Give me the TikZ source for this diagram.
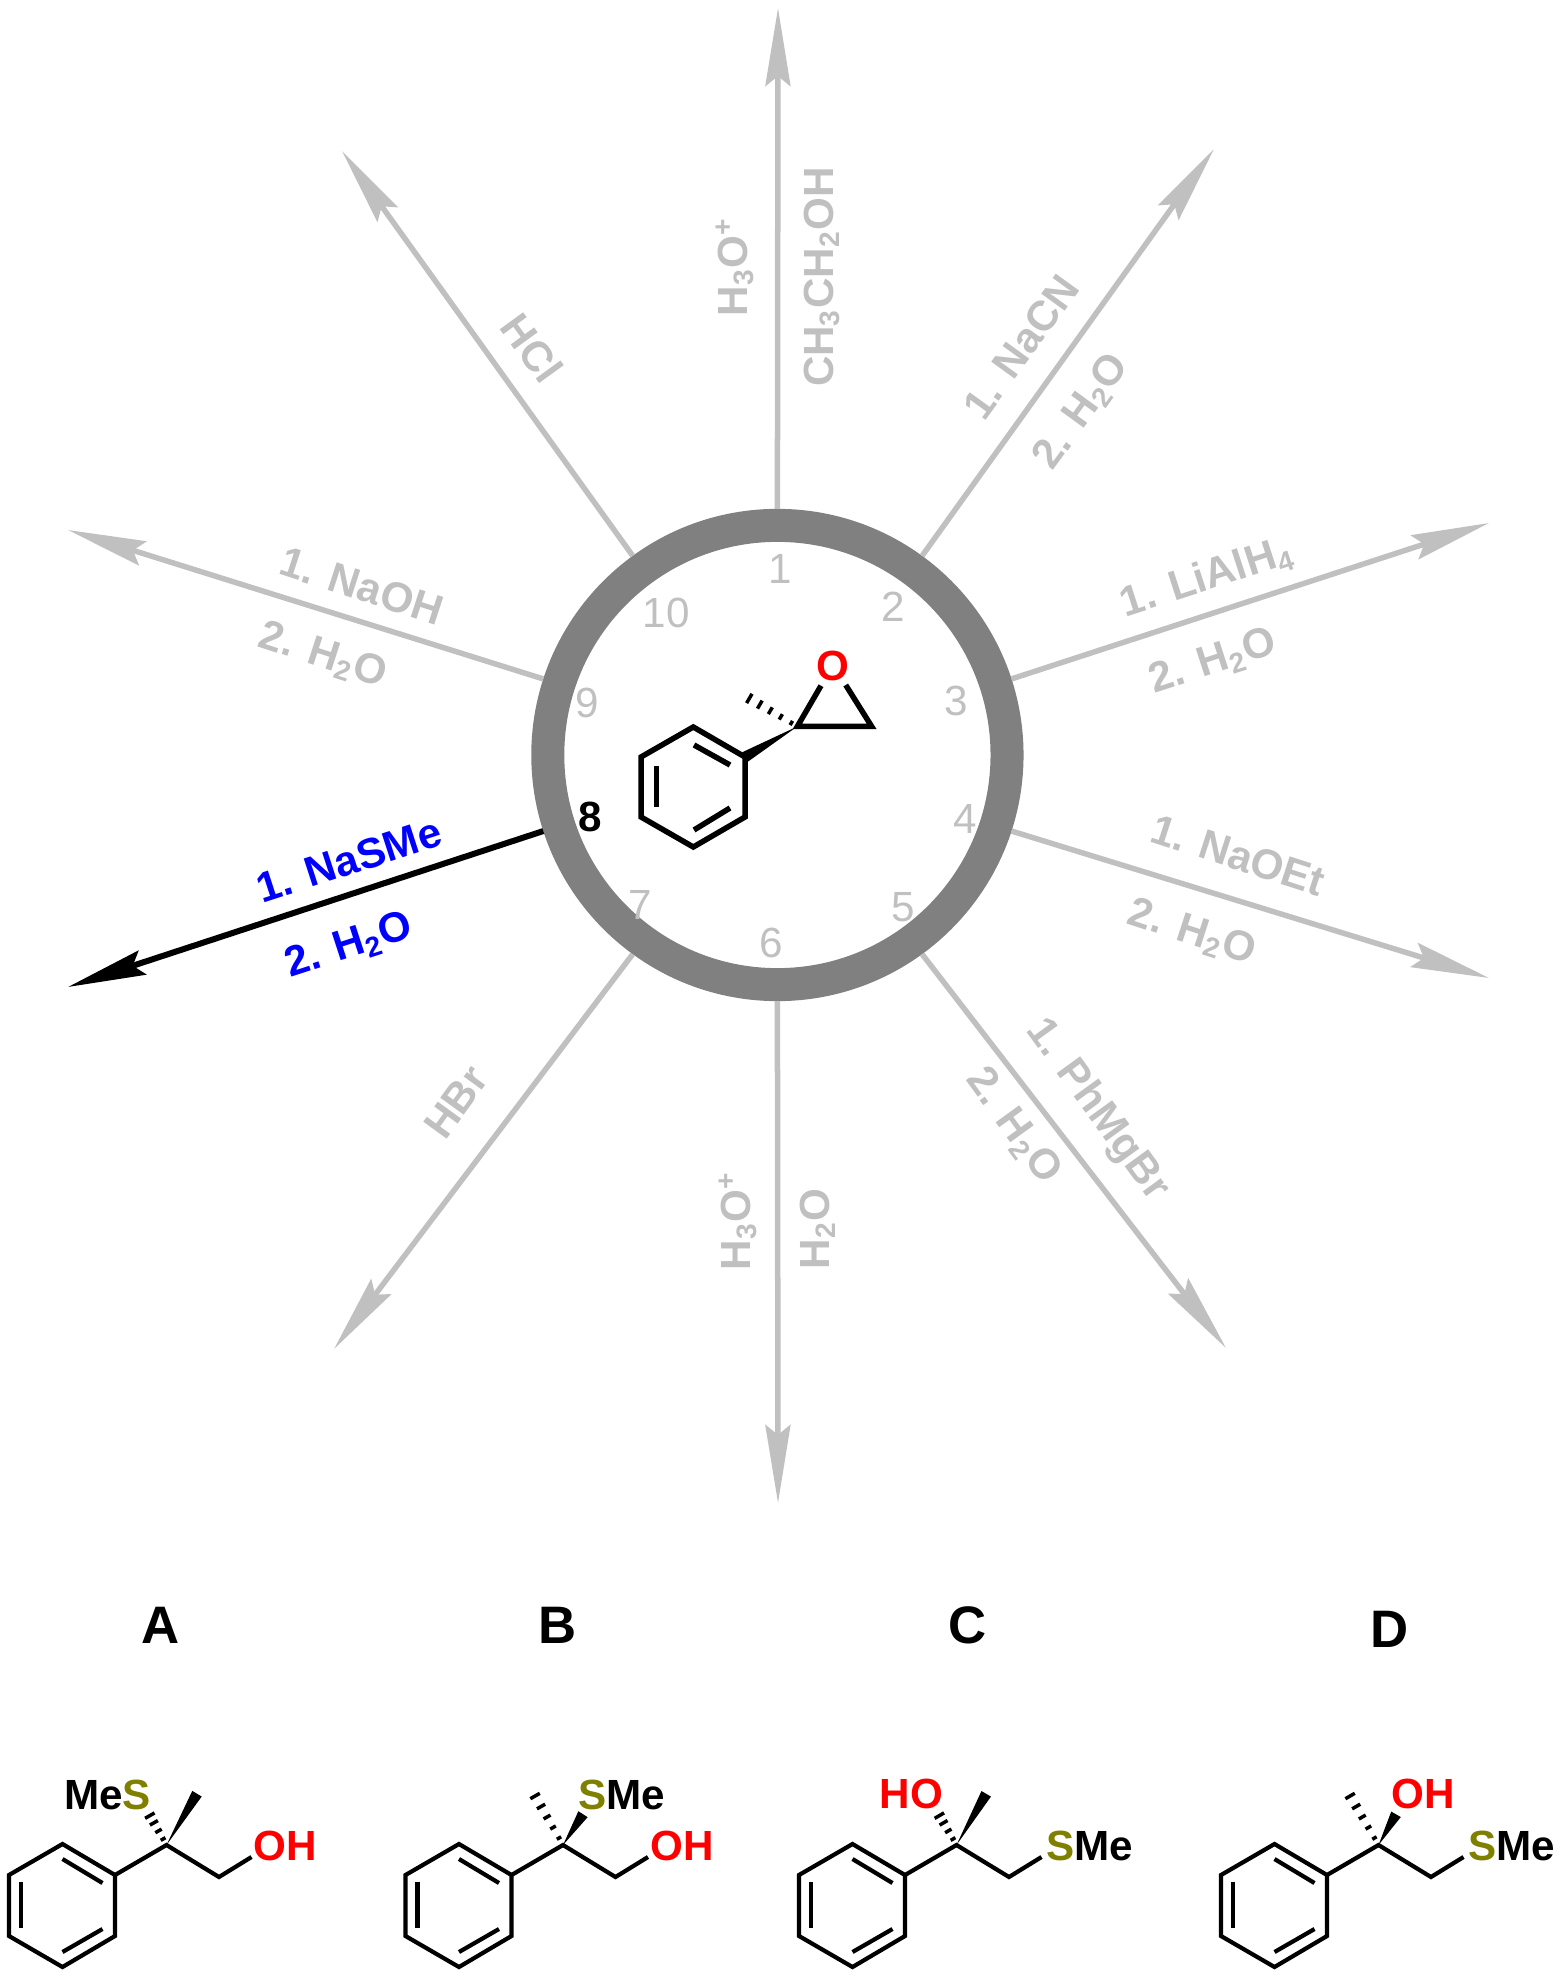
\documentclass[tikz,border=0pt]{standalone}
\usepackage{fontspec}
\setmainfont{Liberation Sans}
\usepackage{tikz}
\usetikzlibrary{arrows.meta,calc}
\definecolor{ringgray}{RGB}{128,128,128}
\definecolor{fadegray}{RGB}{192,192,192}
\definecolor{sulfur}{RGB}{128,128,0}

\newcommand{\wedgebond}[3]{\fill #1 -- ($#2!#3!90:#1$) -- ($#2!#3!-90:#1$) -- cycle;}
\newcommand{\hashbond}[3]{\foreach \pos in {#3} {
    \pgfmathsetmacro{\hw}{0.02+\pos*0.035}
    \draw[line width=0.035cm] ($#1!\pos!#2!\hw cm!90:#2$) -- ($#1!\pos!#2!\hw cm!-90:#2$);}}
% phenyl ring and side chain of one answer
\newcommand{\answerbase}{
    \draw[bond] (62.5,1844) -- (115,1875) -- (115,1936) -- (62.5,1967) -- (9,1936) -- (9,1875) -- cycle;
    \draw[bond] (62.5,1859) -- (102.5,1883);
    \draw[bond] (21,1882) -- (21,1928);
    \draw[bond] (62.5,1952) -- (102.5,1929);
    \coordinate (cq) at (166.5,1845);
    \coordinate (chtwo) at (219,1877);
    \coordinate (xend) at (251.5,1857);
    \draw[bond] (115,1875) -- (cq) -- (chtwo) -- (xend);
}

\begin{document}
\begin{tikzpicture}[x=0.01cm, y=-0.01cm,
    reagent/.style={font=\fontsize{12}{14}\selectfont\bfseries, text=fadegray, inner sep=0pt},
    chosen/.style={reagent, text=blue},
    number/.style={font=\fontsize{12}{14}\selectfont, text=fadegray, inner sep=0pt},
    atom/.style={font=\fontsize{12}{14}\selectfont\bfseries, inner sep=0pt},
    letter/.style={font=\fontsize{15}{18}\selectfont\bfseries, inner sep=0pt},
    arrowline/.style={-{Stealth[length=7.8mm,width=2.5mm,inset=1mm]}, fadegray, line width=0.055cm},
    bond/.style={line width=0.042cm},
    bondtop/.style={line width=0.055cm}
]
\useasboundingbox (0,0) rectangle (1560,1977);

% Ring
\node[draw=ringgray, line width=0.33cm, circle, minimum size=4.59cm, inner sep=0pt] (ring) at (777.4,755) {};

% Arrow ends
\coordinate (end1) at (778,8);
\coordinate (end2) at (1214,149);
\coordinate (end3) at (1489,523);
\coordinate (end4) at (1489,978);
\coordinate (end5) at (1226,1348);
\coordinate (end6) at (778,1503);
\coordinate (end7) at (334,1349);
\coordinate (end8) at (68,987);
\coordinate (end9) at (68,530);
\coordinate (end10) at (342,151);

% Arrows
\draw[arrowline] (ring.90) -- (end1);
\draw[arrowline] (ring.54) -- (end2);
\draw[arrowline] (ring.18) -- (end3);
\draw[arrowline] (ring.-18) -- (end4);
\draw[arrowline] (ring.-54) -- (end5);
\draw[arrowline] (ring.-90) -- (end6);
\draw[arrowline] (ring.234) -- (end7);
\draw[arrowline, black, line width=0.06cm] (ring.198) -- (end8);
\draw[arrowline] (ring.162) -- (end9);
\draw[arrowline] (ring.126) -- (end10);

% Reagents
\node[reagent, rotate=90] (r1a) at (735,267) {H\textsubscript{3}O\textsuperscript{+}};
\node[reagent, rotate=90] (r1b) at (822,277) {CH\textsubscript{3}CH\textsubscript{2}OH};
\node[reagent, rotate=54] (r2a) at (1021,347) {1. NaCN};
\node[reagent, rotate=54] (r2b) at (1082,412) {2. H\textsubscript{2}O};
\node[reagent, rotate=18] (r3a) at (1207,578) {1. LiAlH\textsubscript{4}};
\node[reagent, rotate=18] (r3b) at (1213,662) {2. H\textsubscript{2}O};
\node[reagent, rotate=-18] (r4a) at (1238,855) {1. NaOEt};
\node[reagent, rotate=-18] (r4b) at (1192,933) {2. H\textsubscript{2}O};
\node[reagent, rotate=-54] (r5a) at (1097,1110) {1. PhMgBr};
\node[reagent, rotate=-54] (r5b) at (1013,1126) {2. H\textsubscript{2}O};
\node[reagent, rotate=90] (r6a) at (738,1221) {H\textsubscript{3}O\textsuperscript{+}};
\node[reagent, rotate=90] (r6b) at (818,1229) {H\textsubscript{2}O};
\node[reagent, rotate=54] (r7) at (456,1102) {HBr};
\node[chosen, rotate=18] (r8a) at (349,860) {1. NaSMe};
\node[chosen, rotate=18] (r8b) at (349,946) {2. H\textsubscript{2}O};
\node[reagent, rotate=-18] (r9a) at (362,586) {1. NaOH};
\node[reagent, rotate=-18] (r9b) at (323,656) {2. H\textsubscript{2}O};
\node[reagent, rotate=-54] (r10) at (532,348) {HCl};

% Clock numbers
\node[number] (n1) at (780,569) {1};
\node[number] (n2) at (893.3,607) {2};
\node[number] (n3) at (956.7,700.7) {3};
\node[number] (n4) at (965.7,819) {4};
\node[number] (n5) at (903.3,906.7) {5};
\node[number] (n6) at (771.7,942.7) {6};
\node[number] (n7) at (640.7,905) {7};
\node[atom] (n8) at (590.7,816.7) {8};
\node[number] (n9) at (587.7,703.3) {9};
\node[number] (n10) at (666,612.7) {10};

% Epoxide
\draw[bondtop] (693.3,727) -- (745,757) -- (745,817) -- (693.3,847) -- (641,817) -- (641,757) -- cycle;
\draw[bondtop] (694,745) -- (730,765);
\draw[bondtop] (656.7,766) -- (656.7,807);
\draw[bondtop] (694,830) -- (730,808);
\coordinate (ca) at (797.3,726.5);
\coordinate (cb) at (871.7,726.5);
\coordinate (methyl) at (747.3,697.3);
\coordinate (ipso) at (745,757);
\node[atom, text=red] (oxy) at (832.7,665.7) {O};
\coordinate (oa) at (821,685.7);
\coordinate (ob) at (845.7,685);
\draw[bondtop, line join=miter] (oa) -- (ca) -- (cb) -- (ob);
\wedgebond{(ca)}{(ipso)}{0.055cm}
\hashbond{(ca)}{(methyl)}{.12,.33,.54,.75,.96}

% Answers
\node[letter] (la) at (161,1625) {A};
\node[letter] (lb) at (558,1625) {B};
\node[letter] (lc) at (968,1625) {C};
\node[letter] (ld) at (1390,1629) {D};

% A
\answerbase
\coordinate (wa) at (197,1793.7);
\coordinate (ha) at (149.5,1815);
\wedgebond{(cq)}{(wa)}{0.055cm}
\hashbond{(cq)}{(ha)}{.2,.47,.74,.98}
\node[atom] (xa) at (107.75,1794.5) {Me\textcolor{sulfur}{S}};
\node[atom, text=red] (ya) at (285.5,1846) {OH};

% B
\begin{scope}[shift={(396.5,0)}]
\answerbase
\coordinate (wb) at (186.5,1814.2);
\coordinate (hb) at (138,1795);
\wedgebond{(cq)}{(wb)}{0.055cm}
\hashbond{(cq)}{(hb)}{.14,.35,.56,.77,.98}
\node[atom] (xb) at (225.5,1794.5) {\textcolor{sulfur}{S}Me};
\node[atom, text=red] (yb) at (285.5,1846) {OH};
\end{scope}

% C
\begin{scope}[shift={(790,0)}]
\answerbase
\coordinate (wc) at (196.2,1793.8);
\coordinate (hc) at (149,1815);
\wedgebond{(cq)}{(wc)}{0.055cm}
\hashbond{(cq)}{(hc)}{.2,.47,.74,.98}
\node[atom, text=red] (xc) at (121.2,1794) {HO};
\node[atom] (yc) at (299.5,1846) {\textcolor{sulfur}{S}Me};
\end{scope}

% D
\begin{scope}[shift={(1212,0)}]
\answerbase
\coordinate (wd) at (184,1814.3);
\coordinate (hd) at (137.5,1795);
\wedgebond{(cq)}{(wd)}{0.055cm}
\hashbond{(cq)}{(hd)}{.14,.35,.56,.77,.98}
\node[atom, text=red] (xd) at (210.8,1794) {OH};
\node[atom] (yd) at (299.5,1846) {\textcolor{sulfur}{S}Me};
\end{scope}

\end{tikzpicture}
\end{document}
